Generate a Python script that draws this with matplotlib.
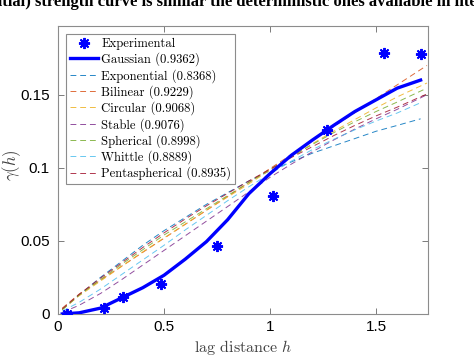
"""
Variogram fit comparison: experimental points vs fitted models
"""
import matplotlib
matplotlib.use('Agg')
import matplotlib.pyplot as plt

# experimental semivariogram
h_exp = [0.041, 0.218, 0.308, 0.484, 0.749, 1.012, 1.270, 1.536, 1.712]
g_exp = [0.0, 0.0039, 0.0116, 0.0205, 0.0464, 0.0808, 0.126, 0.1785, 0.1779]

# fitted model curves
h_mod = [0.02, 0.1, 0.2, 0.3, 0.4, 0.5, 0.6, 0.7, 0.8, 0.9,
         1.0, 1.1, 1.2, 1.3, 1.4, 1.5, 1.6, 1.74]
h_short = h_mod[:-1] + [1.71]

gaussian = [0.0, 0.0008, 0.004, 0.011, 0.018, 0.0265, 0.0375, 0.0495, 0.0645, 0.0823,
            0.096, 0.1085, 0.119, 0.129, 0.1385, 0.1465, 0.1545, 0.160]
exponential = [0.003, 0.013, 0.025, 0.036, 0.047, 0.057, 0.066, 0.075, 0.083, 0.091,
               0.098, 0.104, 0.110, 0.115, 0.120, 0.125, 0.129, 0.1335]
bilinear = [0.004, 0.0136, 0.0231, 0.0327, 0.0422, 0.0518, 0.0613, 0.0709, 0.0804, 0.090,
            0.0995, 0.109, 0.1186, 0.1282, 0.1377, 0.1473, 0.1568, 0.170]
circular = [0.003, 0.0125, 0.0225, 0.0325, 0.0425, 0.052, 0.0615, 0.071, 0.080, 0.089,
            0.0985, 0.1075, 0.1165, 0.125, 0.133, 0.141, 0.1485, 0.158]
stable = [0.001, 0.006, 0.014, 0.0235, 0.0335, 0.0435, 0.0535, 0.0635, 0.0735, 0.0835,
          0.0935, 0.1025, 0.111, 0.119, 0.1265, 0.1335, 0.140, 0.150]
spherical = [0.003, 0.013, 0.0235, 0.034, 0.044, 0.054, 0.063, 0.072, 0.081, 0.090,
             0.099, 0.1075, 0.116, 0.124, 0.1315, 0.1385, 0.145, 0.1545]
whittle = [0.002, 0.008, 0.017, 0.027, 0.037, 0.047, 0.0575, 0.0675, 0.0775, 0.087,
           0.096, 0.1045, 0.1125, 0.1195, 0.126, 0.132, 0.1375, 0.1445]
pentaspherical = [0.0035, 0.0135, 0.0245, 0.035, 0.0455, 0.0555, 0.065, 0.074, 0.0825, 0.091,
                  0.099, 0.107, 0.1145, 0.122, 0.129, 0.1355, 0.1415, 0.1505]

dashed = [
    ('Exponential (0.8368)', exponential, h_short, (0.0, 0.447, 0.741)),
    ('Bilinear (0.9229)', bilinear, h_mod, (0.85, 0.325, 0.098)),
    ('Circular (0.9068)', circular, h_mod, (0.929, 0.694, 0.125)),
    ('Stable (0.9076)', stable, h_mod, (0.494, 0.184, 0.556)),
    ('Spherical (0.8998)', spherical, h_mod, (0.466, 0.674, 0.188)),
    ('Whittle (0.8889)', whittle, h_short, (0.301, 0.745, 0.933)),
    ('Pentaspherical (0.8935)', pentaspherical, h_mod, (0.635, 0.078, 0.184)),
]

plt.rcParams['mathtext.fontset'] = 'cm'

fig = plt.figure(figsize=(4.74, 3.56), dpi=100)
ax = fig.add_axes([0.1224, 0.118, 0.7806, 0.809])

ax.plot(h_exp, g_exp, linestyle='none', marker=(8, 2, 0), color='blue',
        markersize=8, markeredgewidth=1.4, label='Experimental', zorder=5)
ax.plot(h_short, gaussian, color='blue', linewidth=2.4, label='Gaussian (0.9362)', zorder=4)
for label, vals, hh, col in dashed:
    ax.plot(hh, vals, linestyle=(0, (6, 4)), linewidth=0.7, color=col, alpha=0.85, label=label)

ax.set_xlim(0, 1.745)
ax.set_ylim(0, 0.197)
ax.set_xticks([0, 0.5, 1, 1.5])
ax.set_xticklabels(['0', '0.5', '1', '1.5'])
ax.set_yticks([0, 0.05, 0.1, 0.15])
ax.set_yticklabels(['0', '0.05', '0.1', '0.15'])
ax.tick_params(direction='in', top=True, right=True, length=4, width=0.6,
               color='0.4', labelsize=11, pad=6)
ax.tick_params(axis='x', pad=4)
for lbl in ax.get_xticklabels() + ax.get_yticklabels():
    lbl.set_fontfamily('Liberation Sans')
for sp in ax.spines.values():
    sp.set_color('0.55')
    sp.set_linewidth(0.8)

ax.set_xlabel('lag distance $h$', family='cmr10', fontsize=11.5, color='0.25')
ax.xaxis.set_label_coords(0.5, -0.082)
ax.set_ylabel(r'$\gamma(h)$', fontsize=12, color='0.25', va='center')
ax.yaxis.set_label_coords(-0.125, 0.517)

leg = ax.legend(loc='upper left', bbox_to_anchor=(0.0216, 0.972), borderaxespad=0,
                prop={'family': 'cmr10', 'size': 9.1}, fancybox=False, framealpha=1,
                edgecolor='0.55', labelspacing=0.2, handlelength=2.2,
                handletextpad=0.3, borderpad=0.3)
leg.get_frame().set_linewidth(0.8)

fig.text(-0.015, 0.9845, 'ntial) strength curve is similar the deterministic ones available in literature',
         family='Liberation Serif', weight='bold', fontsize=12, va='baseline', ha='left')

fig.savefig('out.png', dpi=100)
